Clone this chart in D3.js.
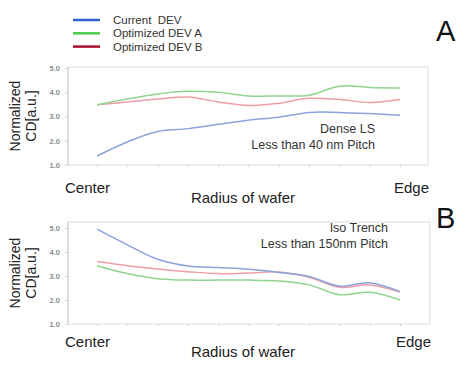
<!DOCTYPE html>
<html><head><meta charset="utf-8">
<script src="https://cdn.jsdelivr.net/npm/d3@7"></script>
<style>html,body{margin:0;padding:0;background:#fff}svg{display:block}</style>
</head><body>
<script>
const seriesNames = ["Current  DEV", "Optimized DEV A", "Optimized DEV B"];
const xIndex = [0,1,2,3,4,5,6,7,8,9,10];
const yTicks = [1.0, 2.0, 3.0, 4.0, 5.0];
// Panel A: Dense LS
const aCurrent = [1.37, 1.95, 2.38, 2.5, 2.68, 2.85, 2.97, 3.17, 3.17, 3.12, 3.05];
const aOptA    = [3.48, 3.72, 3.93, 4.04, 4.0, 3.85, 3.85, 3.88, 4.25, 4.2, 4.18];
const aOptB    = [3.48, 3.6, 3.72, 3.8, 3.6, 3.45, 3.55, 3.75, 3.7, 3.58, 3.7];
// Panel B: Iso Trench
const bCurrent = [4.95, 4.3, 3.7, 3.42, 3.35, 3.28, 3.15, 2.98, 2.58, 2.72, 2.35];
const bOptA    = [3.43, 3.1, 2.89, 2.83, 2.83, 2.83, 2.79, 2.63, 2.22, 2.32, 2.0];
const bOptB    = [3.6, 3.43, 3.29, 3.18, 3.1, 3.12, 3.17, 2.95, 2.53, 2.63, 2.33];

const lineColors = ["#8aa3dc", "#8fd48f", "#ef9ea8"];
const legendColors = ["#2f62d0", "#4ccb4c", "#a8102c"];

const svg = d3.select("body").append("svg").attr("width",474).attr("height",379);
const font = "Arial, 'Liberation Sans', sans-serif";

// legend
seriesNames.forEach((n,i)=>{
  const y = 20 + i*13.3;
  svg.append("line").attr("x1",73).attr("x2",100).attr("y1",y).attr("y2",y)
    .attr("stroke",legendColors[i]).attr("stroke-width",2.5);
  svg.append("text").attr("x",113).attr("y",y+4).attr("font-family",font)
    .attr("font-size",11.5).attr("fill","#333").style("white-space","pre").text(n);
});

function panel(cfg){
  const g = svg.append("g");
  const x = d3.scaleLinear().domain([0,10]).range([97,400]);
  const y = d3.scaleLinear().domain([1,5]).range([cfg.y1, cfg.y5]);
  // frame
  g.append("rect").attr("x",68).attr("y",cfg.top).attr("width",cfg.right-68).attr("height",y(1)-cfg.top)
    .attr("fill","none").attr("stroke","#e2e2e2").attr("stroke-width",1.2);
  g.append("line").attr("x1",68).attr("x2",68).attr("y1",cfg.top).attr("y2",y(1)).attr("stroke","#d0d0d0");
  // y tick labels
  const ya = d3.axisLeft(y).tickValues(yTicks).tickFormat(d3.format(".1f")).tickSize(3).tickPadding(5);
  const ag = g.append("g").attr("transform","translate(68,0)").call(ya);
  ag.select(".domain").remove();
  ag.selectAll("line").attr("stroke","#d0d0d0");
  ag.selectAll("text").attr("font-family",font).attr("font-size",7.5).attr("font-weight","bold").attr("fill","#8a8a8a");
  // x ticks
  const xa = d3.axisBottom(x).tickValues(xIndex).tickFormat("").tickSize(2);
  const xg = g.append("g").attr("transform",`translate(0,${y(1)})`).call(xa);
  xg.select(".domain").remove();
  xg.selectAll("line").attr("stroke","#cfcfcf");
  // lines
  const line = d3.line().x((d,i)=>x(i)).y(d=>y(d)).curve(d3.curveCatmullRom.alpha(0.5));
  cfg.order.forEach(k=>{
    g.append("path").datum(cfg.data[k]).attr("d",line).attr("fill","none")
      .attr("stroke",lineColors[k]).attr("stroke-width",1.5);
  });
  // annotations
  cfg.notes.forEach((t,i)=>{
    g.append("text").attr("x",cfg.noteX).attr("y",cfg.noteY+i*15.5).attr("text-anchor","end")
      .attr("font-family",font).attr("font-size",12.5).attr("fill","#333").text(t);
  });
  // y label
  const cy = (cfg.top + y(1))/2;
  const yl = g.append("text").attr("transform",`translate(20,${cy}) rotate(-90)`).attr("text-anchor","middle")
    .attr("font-family",font).attr("font-size",14).attr("fill","#222");
  yl.append("tspan").attr("x",0).attr("dy",0).text("Normalized");
  yl.append("tspan").attr("x",0).attr("dy",16).text("CD[a.u.]");
  // x labels
  g.append("text").attr("x",65).attr("y",cfg.centerY).attr("font-family",font).attr("font-size",15).attr("fill","#222").text("Center");
  g.append("text").attr("x",cfg.right+1).attr("y",cfg.centerY).attr("text-anchor","end").attr("font-family",font).attr("font-size",15).attr("fill","#222").text("Edge");
  g.append("text").attr("x",243).attr("y",cfg.centerY+10).attr("text-anchor","middle").attr("font-family",font).attr("font-size",15).attr("fill","#222").text("Radius of wafer");
  // panel letter
  g.append("text").attr("x",436).attr("y",cfg.letterY).attr("font-family",font).attr("font-size",29).attr("fill","#111").text(cfg.letter);
}

panel({top:67, y5:68, y1:165, right:428, data:[aCurrent,aOptA,aOptB], order:[0,2,1],
  notes:["Dense LS","Less than 40 nm Pitch"], noteX:375, noteY:133, centerY:193, letter:"A", letterY:41});
panel({top:222, y5:228, y1:324, right:430, data:[bCurrent,bOptA,bOptB], order:[1,2,0],
  notes:["Iso Trench","Less than 150nm Pitch"], noteX:388, noteY:232, centerY:347, letter:"B", letterY:228});
</script>
</body></html>
